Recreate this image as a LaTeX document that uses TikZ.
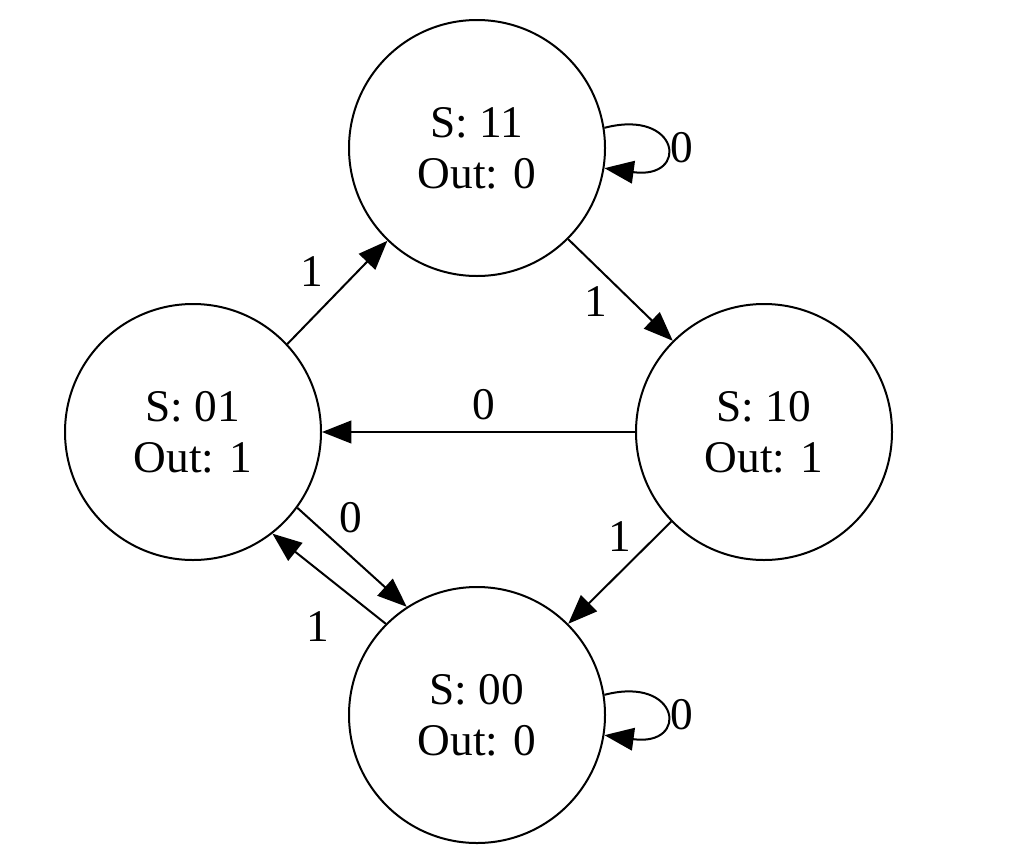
\documentclass[tikz,border=0pt]{standalone}
\usepackage{fontspec}
\setmainfont{Liberation Serif}
\usetikzlibrary{arrows.meta}
\begin{document}
\begin{tikzpicture}[x=0.75pt,y=-0.75pt,
  st/.style={draw,circle,line width=1.5pt,minimum size=192pt,inner sep=0pt,align=center,font=\fontsize{34pt}{38pt}\selectfont},
  lbl/.style={font=\fontsize{34pt}{38pt}\selectfont,inner sep=0pt},
  ed/.style={line width=1.5pt,-{Triangle[length=22pt,width=17pt]}}]
\useasboundingbox (0,0) rectangle (1024,857);
\node[st] (n11) at (477,148) {S: 11\\Out: 0};
\node[st] (n01) at (193,432) {S: 01\\Out: 1};
\node[st] (n10) at (764,432) {S: 10\\Out: 1};
\node[st] (n00) at (477,715) {S: 00\\Out: 0};
\draw[ed] (n01.43) -- (n11.226);
\draw[ed] (n11.-45) -- (n10.135);
\draw[ed] (n10.180) -- (n01.0);
\draw[ed] (n10.224) -- (n00.45);
\draw[ed] (n01.-36) -- (n00.123);
\draw[ed] (n00.135) -- (n01.-52);
\draw[ed] (n11.9) .. controls (680,108) and (690,180) .. (n11.-9);
\draw[ed] (n00.9) .. controls (680,675) and (690,747) .. (n00.-9);
\node[lbl] (l1) at (312,272) {1};
\node[lbl] (l2) at (596,302) {1};
\node[lbl] (l3) at (484,405) {0};
\node[lbl] (l4) at (620,537) {1};
\node[lbl] (l5) at (351,518) {0};
\node[lbl] (l6) at (318,627) {1};
\node[lbl] (l7) at (682,148) {0};
\node[lbl] (l8) at (682,715) {0};
\end{tikzpicture}
\end{document}
